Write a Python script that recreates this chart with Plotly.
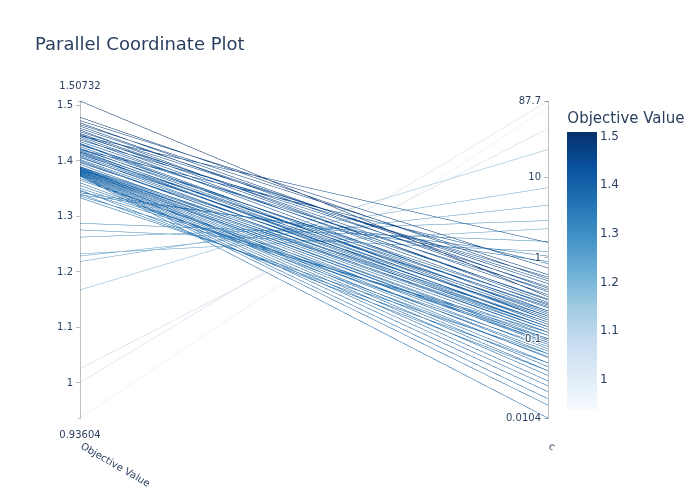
import math
import plotly.graph_objects as go

# objective value of each trial and the matching value of parameter "c"
objective_values = [
    0.93604, 1.000, 1.025, 1.167, 1.218, 1.228, 1.232, 1.262, 1.275, 1.287,
    1.338, 1.342,
    1.50732, 1.478, 1.472, 1.468, 1.465, 1.462, 1.458, 1.455, 1.452, 1.449,
    1.447, 1.445, 1.443, 1.440, 1.437, 1.434, 1.431, 1.428, 1.445, 1.420,
    1.425, 1.422, 1.420, 1.418, 1.416, 1.413, 1.411, 1.409, 1.407, 1.405,
    1.402, 1.400, 1.396, 1.393,
    1.389, 1.388, 1.387, 1.386, 1.385, 1.385, 1.384, 1.383, 1.382, 1.381,
    1.380, 1.380, 1.379, 1.378, 1.377, 1.376, 1.375, 1.374, 1.373, 1.372,
    1.384, 1.381,
    1.368, 1.365, 1.360, 1.355, 1.350, 1.347, 1.345, 1.340, 1.336, 1.333,
    1.430, 1.415, 1.398,
]
c_values = [
    74.0, 87.7, 40.0, 22.0, 7.4, 4.5, 2.3, 2.9, 1.2, 1.6,
    1.05, 0.9,
    0.33, 0.55, 0.75, 0.42, 0.62, 0.38, 0.48, 0.28, 0.52, 0.35,
    0.30, 0.44, 0.26, 0.22, 0.58, 0.31, 0.20, 0.40, 1.55, 0.85,
    0.24, 0.19, 0.27, 0.17, 0.21, 0.15, 0.25, 0.18, 0.14, 0.22,
    0.16, 0.13, 0.19, 0.12,
    0.16, 0.14, 0.12, 0.11, 0.095, 0.13, 0.085, 0.075, 0.065, 0.058,
    0.050, 0.045, 0.040, 0.035, 0.030, 0.026, 0.022, 0.018, 0.015, 0.0104,
    0.10, 0.09,
    0.070, 0.090, 0.060, 0.080, 0.100, 0.040, 0.110, 0.050, 0.120, 0.065,
    0.17, 0.15, 0.14,
]

# log axis for c, like optuna does it
log_c = [math.log10(v) for v in c_values]
c_min, c_max = min(log_c), max(log_c)
tick_vals = list(range(math.ceil(c_min), math.ceil(c_max)))
if c_min not in tick_vals:
    tick_vals = [c_min] + tick_vals
if c_max not in tick_vals:
    tick_vals = tick_vals + [c_max]
tick_text = ["{:.3g}".format(math.pow(10, t)) for t in tick_vals]

dims = [
    dict(label="Objective Value",
         range=(min(objective_values), max(objective_values)),
         values=objective_values),
    dict(label="c", range=(c_min, c_max), values=log_c,
         tickvals=tick_vals, ticktext=tick_text),
]

fig = go.Figure(go.Parcoords(
    dimensions=dims,
    labelangle=30,
    labelside="bottom",
    line=dict(
        color=objective_values,
        colorscale="Blues",
        colorbar=dict(title=dict(text="Objective Value", font=dict(size=15))),
        showscale=True,
        reversescale=False,
    ),
))
# page body adds an 8px offset, so margins/title are nudged back
fig.update_layout(
    title=dict(text="Parallel Coordinate Plot", font=dict(size=18),
               x=0.0386, xanchor="left", y=0.928, yanchor="middle"),
    font=dict(family="DejaVu Sans"),
    width=700, height=500,
    margin=dict(l=72, r=160, t=91, b=88, autoexpand=False),
)

fig.write_html("out.html")
